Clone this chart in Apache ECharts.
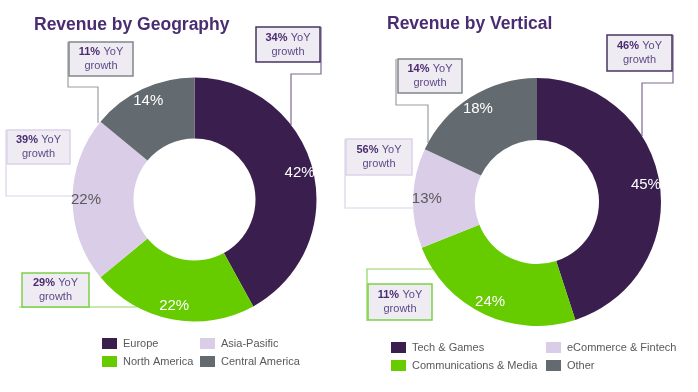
<!DOCTYPE html>
<html>
<head>
<meta charset="utf-8">
<script src="https://cdn.jsdelivr.net/npm/echarts@6/dist/echarts.min.js"></script>
<style>html,body{margin:0;padding:0;background:#fff}#c{width:698px;height:392px}</style>
</head>
<body>
<div id="c"></div>
<script>
const geoTitle = 'Revenue by Geography';
const geoCategories = ['Europe', 'North America', 'Asia-Pasific', 'Central America'];
const geoShares = [42, 22, 22, 14];
const geoGrowth = [34, 29, 39, 11];

const vertTitle = 'Revenue by Vertical';
const vertCategories = ['Tech & Games', 'Communications & Media', 'eCommerce & Fintech', 'Other'];
const vertShares = [45, 24, 13, 18];
const vertGrowth = [46, 11, 56, 14];

const segColors = ['#3a1f4e', '#66cc00', '#dacde7', '#646b70'];
const labelColors = ['#ffffff', '#ffffff', '#5a5a5a', '#ffffff'];
const boxBorders = ['#4a3462', '#7ccf48', '#ddd2ea', '#81878b'];
const lineColors = ['#7d6a92', '#8ed65c', '#ddd2ea', '#9a9ea2'];
const FONT = '"Liberation Sans", Arial, sans-serif';

const chart = echarts.init(document.getElementById('c'), null, {renderer: 'canvas'});

function pieSeries(cats, vals, center, r0, r1) {
  const data = cats.map((n, i) => ({name: n, value: vals[i], itemStyle: {color: segColors[i]}}));
  const labelData = cats.map((n, i) => ({name: n, value: vals[i],
    label: {color: labelColors[i]}}));
  return [{
    type: 'pie', center: center, radius: [r0, r1], startAngle: 90, clockwise: true,
    data: data, label: {show: false}, labelLine: {show: false}, silent: true,
    emphasis: {disabled: true}, animation: false
  }, {
    type: 'pie', center: center, radius: [r1 * 0.73, r1], startAngle: 90, clockwise: true,
    data: labelData, itemStyle: {color: 'rgba(0,0,0,0)'}, silent: true, legendHoverLink: false,
    emphasis: {disabled: true}, animation: false, labelLine: {show: false},
    label: {show: true, position: 'inside', formatter: '{c}%', fontSize: 15, fontFamily: FONT}
  }];
}

function legendItem(name, left, top) {
  return {data: [name], left: left, top: top, padding: 0, itemWidth: 15, itemHeight: 11,
    itemGap: 0, icon: 'rect', selectedMode: false,
    textStyle: {fontSize: 11, color: '#595959', fontFamily: FONT, padding: [0, 0, 0, 1]}};
}

function callout(growth, idx, box, pts) {
  return [{
    type: 'polyline', shape: {points: pts}, silent: true,
    style: {stroke: lineColors[idx], lineWidth: 1.2, fill: null}
  }, {
    type: 'rect', shape: {x: box[0], y: box[1], width: box[2], height: box[3]}, silent: true,
    style: {fill: '#efebf3', stroke: boxBorders[idx], lineWidth: 1.5}
  }, {
    type: 'text', x: box[0] + box[2] / 2, y: box[1] + box[3] / 2, silent: true,
    style: {
      text: '{b|' + growth + '%} {n|YoY}\n{n|growth}',
      align: 'center', verticalAlign: 'middle', lineHeight: 14,
      rich: {
        b: {fontSize: 11, fontWeight: 'bold', fill: '#4a2c6e', fontFamily: FONT, lineHeight: 14},
        n: {fontSize: 11, fill: '#5e4a86', fontFamily: FONT, lineHeight: 14}
      }
    }
  }];
}

const graphics = [].concat(
  callout(geoGrowth[0], 0, [256, 27, 64, 35], [[321, 27], [321, 74], [291, 74], [291, 125]]),
  callout(geoGrowth[3], 3, [69, 42, 64, 34], [[68, 42], [68, 87], [98, 87], [98, 123]]),
  callout(geoGrowth[2], 2, [7, 130, 63, 34], [[6, 130], [6, 196], [72, 196]]),
  callout(geoGrowth[1], 1, [22, 273, 67, 34], [[19, 307], [137, 307]]),
  callout(vertGrowth[0], 0, [607, 35, 65, 36], [[673, 35], [673, 83], [642, 83], [642, 136]]),
  callout(vertGrowth[3], 3, [398, 59, 64, 34], [[396, 59], [396, 105], [428, 105], [428, 143]]),
  callout(vertGrowth[2], 2, [346, 139, 66, 36], [[345, 139], [345, 208], [413, 208]]),
  callout(vertGrowth[1], 1, [368, 284, 64, 36], [[367, 321], [367, 269], [433, 269]])
);

const option = {
  backgroundColor: '#ffffff',
  animation: false,
  title: [
    {text: geoTitle, left: 34, top: 16, padding: 0,
     textStyle: {fontSize: 17.5, fontWeight: 'bold', color: '#4a2c72', fontFamily: FONT}},
    {text: vertTitle, left: 387, top: 15, padding: 0,
     textStyle: {fontSize: 17.5, fontWeight: 'bold', color: '#4a2c72', fontFamily: FONT}}
  ],
  legend: [
    legendItem(geoCategories[0], 102, 338),
    legendItem(geoCategories[2], 200, 338),
    legendItem(geoCategories[1], 102, 356),
    legendItem(geoCategories[3], 200, 356),
    legendItem(vertCategories[0], 391, 342),
    legendItem(vertCategories[2], 546, 342),
    legendItem(vertCategories[1], 391, 360),
    legendItem(vertCategories[3], 546, 360)
  ],
  series: [].concat(
    pieSeries(geoCategories, geoShares, [194.5, 199.5], 61, 122),
    pieSeries(vertCategories, vertShares, [537, 202], 62, 124)
  ),
  graphic: graphics
};
chart.setOption(option);
</script>
</body>
</html>
